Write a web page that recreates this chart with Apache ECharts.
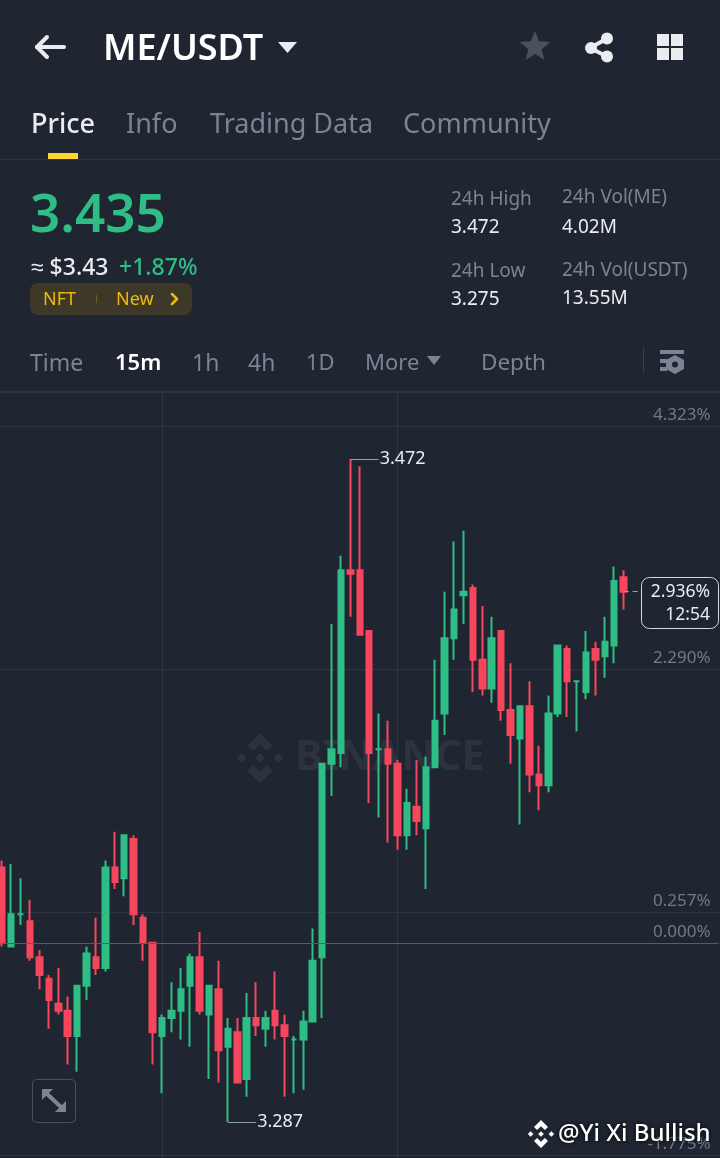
<!DOCTYPE html>
<html>
<head>
<meta charset="utf-8">
<style>
html, body { margin: 0; padding: 0; background: #1f2631; }
#chartFrame { width: 720px; height: 1158px; }
</style>
<script src="https://cdn.jsdelivr.net/npm/echarts@6/dist/echarts.min.js"></script>
</head>
<body>
<div id="chartFrame"></div>
<script>
// 15m candles, oldest first
var opens = [3.358,3.336,3.345,3.343,3.333,3.327,3.320,3.318,3.311,3.325,3.333,3.330,3.358,3.355,3.366,3.344,3.337,
    3.311,3.316,3.318,3.325,3.333,3.317,3.324,3.308,3.312,3.299,3.316,3.313,3.318,3.314,3.310,3.310,3.315,3.333,
    3.387,3.390,3.441,3.441,3.424,3.391,3.391,3.387,3.367,3.375,3.369,3.386,3.401,3.422,3.434,
    3.436,3.416,3.408,3.424,3.402,3.394,3.403,3.384,3.381,3.401,3.419,3.410,3.407,3.419,3.417,3.420,3.439];
var closes = [3.337,3.345,3.345,3.333,3.328,3.321,3.318,3.311,3.325,3.334,3.330,3.358,3.354,3.367,3.345,3.337,3.312,
    3.316,3.318,3.324,3.333,3.318,3.325,3.307,3.313,3.298,3.316,3.314,3.316,3.314,3.311,3.310,3.315,3.332,3.387,
    3.391,3.441,3.440,3.423,3.390,3.391,3.387,3.367,3.376,3.371,3.386,3.399,3.422,3.430,3.435,
    3.416,3.408,3.422,3.402,3.395,3.403,3.384,3.381,3.401,3.420,3.410,3.410,3.418,3.416,3.421,3.438,3.435];
var lows = [3.336,3.336,3.342,3.332,3.324,3.313,3.317,3.303,3.301,3.321,3.328,3.329,3.352,3.350,3.342,3.332,3.303,
    3.295,3.312,3.310,3.308,3.317,3.299,3.298,3.287,3.298,3.294,3.311,3.308,3.310,3.294,3.295,3.296,3.315,3.316,
    3.378,3.386,3.428,3.423,3.376,3.372,3.365,3.363,3.363,3.367,3.352,3.386,3.395,3.416,3.426,
    3.407,3.406,3.404,3.399,3.387,3.370,3.379,3.374,3.379,3.400,3.400,3.396,3.405,3.406,3.411,3.415,3.430];
var highs = [3.360,3.359,3.355,3.349,3.335,3.328,3.330,3.322,3.325,3.336,3.344,3.360,3.368,3.367,3.367,3.345,3.337,
    3.317,3.326,3.330,3.334,3.340,3.325,3.332,3.316,3.316,3.323,3.326,3.318,3.329,3.317,3.311,3.318,3.341,3.387,
    3.426,3.445,3.472,3.470,3.424,3.401,3.399,3.388,3.380,3.388,3.389,3.416,3.435,3.449,3.452,
    3.437,3.431,3.428,3.424,3.415,3.403,3.410,3.392,3.406,3.420,3.420,3.410,3.424,3.421,3.428,3.442,3.441];
var emptySlots = 10;

// percent axis, relative to the price the app uses as zero
var basePrice = 3.337;
var pctTicks = [-1.775, 0, 0.257, 2.290, 4.323];
var pctMin = -1.800;
var pctMax = 4.607;
var gridLineSlots = [17, 42];

var GREEN = '#2ebd85', RED = '#f6465d', GRAY = '#7a8494', WHITE = '#eaecef', LINE = '#2e3541';
var FONT = '"Noto Sans", sans-serif';

var categories = [];
for (var i = 0; i < opens.length + emptySlots; i++) {
    categories.push(String(i));
}
var candles = opens.map(function (o, i) {
    return [o, closes[i], lows[i], highs[i]];
});

var highest = Math.max.apply(null, highs);
var lowest = Math.min.apply(null, lows);
var lastIdx = closes.length - 1;

function txt(x, y, text, size, color, weight, align) {
    return {
        type: 'text', x: x, y: y + 2, z: 50,
        style: {
            text: text, fill: color, align: align || 'left', verticalAlign: 'middle',
            font: (weight || 400) + ' ' + size + 'px ' + FONT
        }
    };
}
function poly(points, color, z) {
    return { type: 'polygon', z: z || 50, shape: { points: points }, style: { fill: color } };
}
function rect(x, y, w, h, color, r) {
    return { type: 'rect', z: 50, shape: { x: x, y: y, width: w, height: h, r: r || 0 }, style: { fill: color } };
}
function stroke(points, color, width) {
    return { type: 'polyline', z: 50, shape: { points: points }, style: { stroke: color, lineWidth: width, fill: null, lineCap: 'round', lineJoin: 'round' } };
}
function logo(cx, cy, s, color, z) {
    function at(list, sign) {
        return list.map(function (p) { return [cx + p[0] * s, cy + p[1] * s * sign]; });
    }
    var chevron = [[0, -1], [0.5, -0.5], [0.28, -0.28], [0, -0.56], [-0.28, -0.28], [-0.5, -0.5]];
    var dot = [[0, -0.2], [0.2, 0], [0, 0.2], [-0.2, 0]];
    return [
        poly(at(chevron, 1), color, z),
        poly(at(chevron, -1), color, z),
        poly(at(dot, 1), color, z),
        poly(dot.map(function (p) { return [cx + (p[0] - 0.74) * s, cy + p[1] * s]; }), color, z),
        poly(dot.map(function (p) { return [cx + (p[0] + 0.74) * s, cy + p[1] * s]; }), color, z)
    ];
}
function star(cx, cy, ro, ri, color) {
    var pts = [];
    for (var k = 0; k < 10; k++) {
        var r = k % 2 ? ri : ro, a = -Math.PI / 2 + k * Math.PI / 5;
        pts.push([cx + r * Math.cos(a), cy + r * Math.sin(a)]);
    }
    return poly(pts, color);
}

var ui = [
    // header
    stroke([[37, 47], [64, 47]], WHITE, 4),
    stroke([[47, 37], [37, 47], [47, 57]], WHITE, 4),
    txt(103, 48, 'ME/USDT', 36, '#ffffff', 600),
    poly([[278, 42], [297, 42], [287.5, 53]], WHITE),
    star(535, 47, 16, 7, '#4a505c'),
    stroke([[590, 48], [608, 38]], WHITE, 4),
    stroke([[590, 48], [608, 57]], WHITE, 4),
    { type: 'circle', z: 50, shape: { cx: 607, cy: 38.5, r: 6 }, style: { fill: WHITE } },
    { type: 'circle', z: 50, shape: { cx: 591, cy: 48, r: 6 }, style: { fill: WHITE } },
    { type: 'circle', z: 50, shape: { cx: 607, cy: 56.5, r: 6 }, style: { fill: WHITE } },
    rect(657, 34, 12, 12, WHITE), rect(671, 34, 12, 12, WHITE),
    rect(657, 48, 12, 12, WHITE), rect(671, 48, 12, 12, WHITE),
    // tabs
    txt(31, 123, 'Price', 27, WHITE, 500),
    txt(126, 123, 'Info', 27, GRAY),
    txt(210, 123, 'Trading Data', 27, GRAY),
    txt(403, 123, 'Community', 27, GRAY),
    rect(48, 153, 30, 6, '#fcd535'),
    rect(0, 159, 720, 1, LINE),
    // price block
    txt(30, 215, '3.435', 53, GREEN, 600),
    txt(31, 266, '≈ $3.43', 23, WHITE, 500),
    txt(119, 266, '+1.87%', 23, GREEN, 500),
    rect(30, 283, 162, 32, '#3d3828', 8),
    txt(43, 298, 'NFT', 18, '#f0b90b'),
    rect(96, 295, 1, 8, '#6b5f2c'),
    txt(116, 298, 'New', 18, '#f0b90b'),
    stroke([[172, 294], [177, 299], [172, 304]], '#f0b90b', 2.5),
    txt(451, 198, '24h High', 19, GRAY),
    txt(451, 226, '3.472', 19, WHITE),
    txt(562, 196, '24h Vol(ME)', 19, GRAY),
    txt(562, 226, '4.02M', 19, WHITE),
    txt(451, 270, '24h Low', 19, GRAY),
    txt(451, 298, '3.275', 19, WHITE),
    txt(562, 269, '24h Vol(USDT)', 19, GRAY),
    txt(562, 297, '13.55M', 19, WHITE),
    // interval row
    txt(30, 362, 'Time', 23, GRAY),
    txt(115, 362, '15m', 22, '#ffffff', 600),
    txt(192, 362, '1h', 23, GRAY),
    txt(248, 362, '4h', 23, GRAY),
    txt(306, 362, '1D', 22, GRAY),
    txt(365, 362, 'More', 22, GRAY),
    poly([[427, 356], [441, 356], [434, 365]], GRAY),
    txt(481, 362, 'Depth', 22.5, GRAY),
    rect(643, 348, 1, 25, '#3a414d'),
    rect(660, 350, 24, 4, GRAY),
    rect(660, 359, 7, 4, GRAY),
    rect(660, 367, 7, 4, GRAY),
    poly([[675, 355], [684, 360], [684, 369], [675, 374], [666, 369], [666, 360]], GRAY),
    { type: 'circle', z: 51, shape: { cx: 675, cy: 364.5, r: 3 }, style: { fill: '#1f2631' } },
    rect(0, 391, 720, 2, LINE),
    // live price box
    { type: 'rect', z: 50, shape: { x: 641.5, y: 577.5, width: 77, height: 51, r: 8 }, style: { fill: '#1f2631', stroke: '#d5d8dc', lineWidth: 1 } },
    txt(710, 590, '2.936%', 17.5, WHITE, 400, 'right'),
    txt(710, 613, '12:54', 17.5, WHITE, 400, 'right'),
    // expand button
    { type: 'rect', z: 50, shape: { x: 32.5, y: 1079.5, width: 43, height: 43, r: 4 }, style: { fill: 'rgba(31,38,49,0.8)', stroke: '#4a505c', lineWidth: 1 } },
    stroke([[46, 1093], [62, 1108]], '#7d8591', 4),
    poly([[42, 1089], [53, 1089], [42, 1100]], '#7d8591'),
    poly([[66, 1112], [55, 1112], [66, 1101]], '#7d8591'),
    // bottom-right mark
    txt(558, 1132, '@Yi Xi Bullish', 24, '#ffffff', 500)
];
ui[ui.length - 1].style.textShadowColor = '#000';
ui[ui.length - 1].style.textShadowBlur = 4;
ui = ui.concat(logo(541, 1134, 14, '#ffffff', 50));

// faint BINANCE mark behind the candles
var mark = logo(260, 758, 25, '#2c333f', 0);
mark.push({
    type: 'text', x: 295, y: 758, z: 0,
    style: { text: 'BINANCE', fill: '#2c333f', verticalAlign: 'middle', font: '700 41.5px ' + FONT }
});

var option = {
    animation: false,
    backgroundColor: '#1f2631',
    grid: { left: -3, top: 392, width: 725.6, height: 766, containLabel: false, outerBoundsMode: 'none' },
    xAxis: {
        type: 'category',
        data: categories,
        axisLine: { show: false },
        axisTick: { show: false },
        axisLabel: { show: false },
        splitLine: {
            show: true,
            alignWithLabel: true,
            interval: function (idx) { return gridLineSlots.indexOf(idx) >= 0; },
            lineStyle: { color: LINE, width: 1 }
        }
    },
    yAxis: [
        {
            type: 'value',
            min: basePrice * (1 + pctMin / 100),
            max: basePrice * (1 + pctMax / 100),
            show: false,
            splitLine: { show: false }
        },
        {
            type: 'value',
            position: 'right',
            min: pctMin,
            max: pctMax,
            axisLine: { show: false },
            axisTick: { show: false, customValues: pctTicks },
            axisLabel: {
                inside: true,
                margin: 12,
                verticalAlign: 'bottom',
                padding: [0, 0, 2, 0],
                color: '#717a88',
                fontSize: 17,
                fontFamily: FONT,
                customValues: pctTicks,
                formatter: function (v) { return v.toFixed(3) + '%'; }
            },
            splitLine: { show: true, lineStyle: { color: LINE, width: 1 } }
        }
    ],
    series: [{
        type: 'candlestick',
        yAxisIndex: 0,
        barWidth: 6,
        data: candles,
        itemStyle: {
            color: GREEN,
            color0: RED,
            borderColor: GREEN,
            borderColor0: RED,
            borderColorDoji: GREEN,
            borderWidth: 2
        },
        markLine: {
            silent: true,
            symbol: 'none',
            animation: false,
            data: [
                [
                    { coord: [highs.indexOf(highest), highest], lineStyle: { color: '#9aa1ac', type: 'solid', width: 1 }, label: { show: true, position: 'end', distance: 1, color: WHITE, fontSize: 18, fontFamily: FONT, formatter: highest.toFixed(3) } },
                    { coord: [highs.indexOf(highest) + 3, highest] }
                ],
                [
                    { coord: [lows.indexOf(lowest), lowest], lineStyle: { color: '#9aa1ac', type: 'solid', width: 1 }, label: { show: true, position: 'end', distance: 1, color: WHITE, fontSize: 18, fontFamily: FONT, formatter: lowest.toFixed(3) } },
                    { coord: [lows.indexOf(lowest) + 3, lowest] }
                ],
                [
                    { coord: [lastIdx, closes[lastIdx]], lineStyle: { color: '#9aa1ac', type: [5, 4], width: 1 }, label: { show: false } },
                    { coord: [lastIdx + 2, closes[lastIdx]] }
                ],
                [
                    { coord: [0, basePrice], lineStyle: { color: '#565d69', type: 'solid', width: 1 }, label: { show: false } },
                    { coord: [categories.length - 1, basePrice] }
                ]
            ]
        }
    }],
    graphic: { elements: mark.concat(ui) }
};

var dom = document.getElementById('chartFrame');
var myChart = echarts.init(dom);
myChart.setOption(option);
</script>
</body>
</html>
